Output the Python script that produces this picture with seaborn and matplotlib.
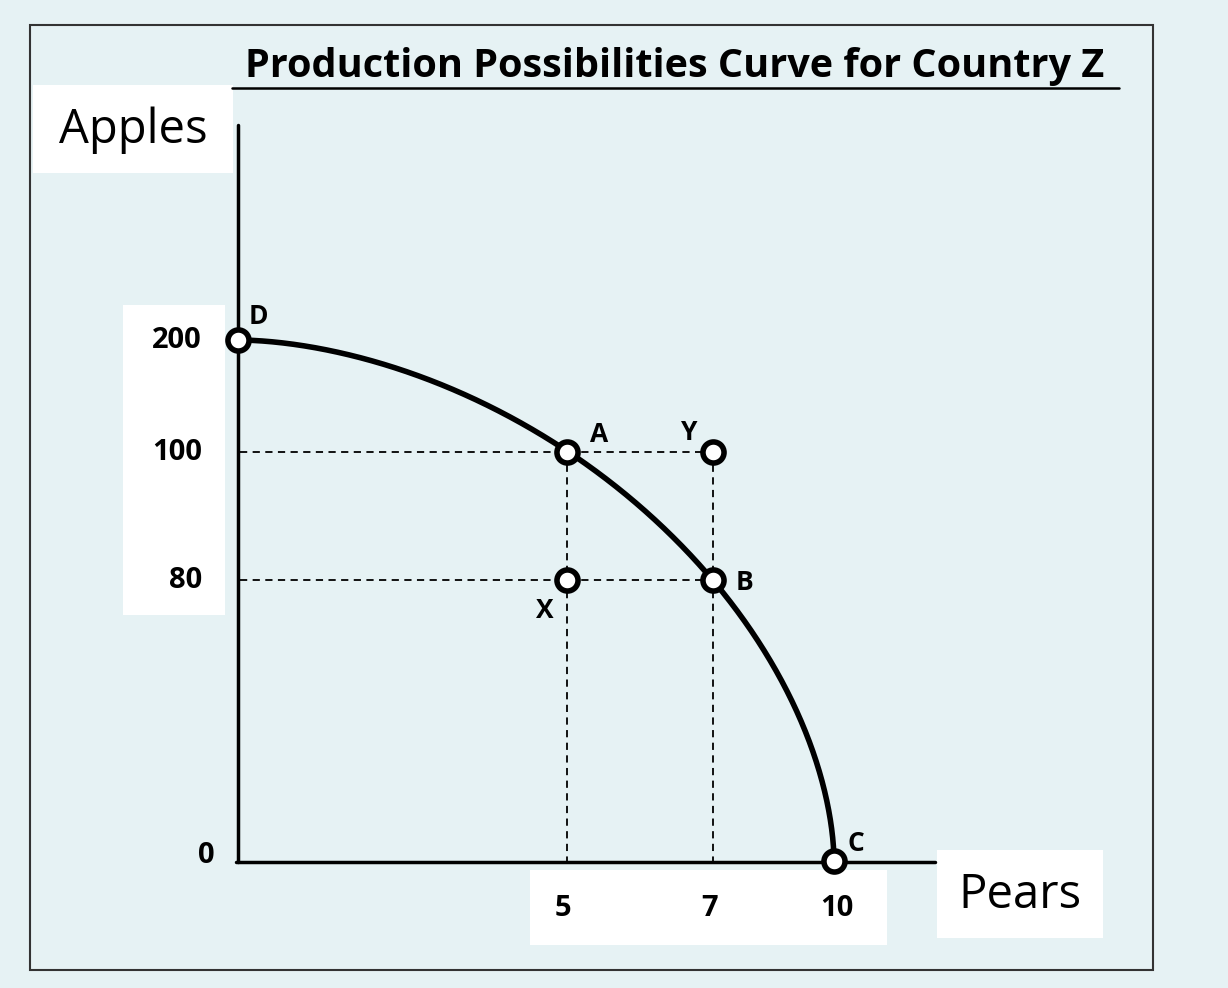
import numpy as np
import pandas as pd
import matplotlib
matplotlib.use("Agg")
import matplotlib.pyplot as plt
import seaborn as sns
from matplotlib.patches import Rectangle

# data
point_names = ["D", "A", "B", "C", "X", "Y"]
pears = [0, 5, 7, 10, 5, 7]
apples = [200, 100, 80, 0, 80, 100]
x_ticks = [5, 7, 10]
y_ticks = [80, 100, 200]
title = "Production Possibilities Curve for Country Z"

# layout: tick values -> pixel positions (non-linear schematic axes)
X_VAL = [0, 5, 7, 10]; X_PIX = [238, 567, 713, 834]
Y_VAL = [0, 80, 100, 200]; Y_PIX = [861, 580, 452, 340]
mx = lambda v: np.interp(v, X_VAL, X_PIX)
my = lambda v: np.interp(v, Y_VAL, Y_PIX)

sns.set_theme(style="white")
plt.rcParams['font.family'] = ['Open Sans', 'DejaVu Sans']
plt.rcParams['text.color'] = 'black'
bg = "#e6f2f4"
fig = plt.figure(figsize=(12.28, 9.88), dpi=100, facecolor=bg)
ax = fig.add_axes([0, 0, 1, 1])
ax.set_xlim(0, 1228); ax.set_ylim(988, 0); ax.axis("off")
ax.set_facecolor(bg)

ax.add_patch(Rectangle((30, 25), 1123, 945, fill=False, ec="#333", lw=1.5))
for (x0, y0, w, h) in [(33, 85, 200, 88), (123, 305, 102, 310), (530, 870, 357, 75), (937, 850, 166, 88)]:
    ax.add_patch(Rectangle((x0, y0), w, h, fc="white", ec="none"))

# axes
ax.plot([238, 238], [125, 862], color="black", lw=2.5)
ax.plot([236, 935], [862, 862], color="black", lw=2.5)

# curve (superellipse through D, A, B, C)
cx, cy = mx(0), my(0)
a, b, p = mx(10) - cx, cy - my(200), 1.78
t = np.linspace(0, np.pi / 2, 300)
xs = cx + a * np.cos(t) ** (2 / p)
ys = cy - b * np.sin(t) ** (2 / p)
sns.lineplot(x=xs, y=ys, sort=False, color="black", lw=4, ax=ax)

# dashed guides
dash = dict(color="black", lw=1.3, ls=(0, (4, 3)))
ax.plot([240, mx(7)], [my(100)] * 2, **dash)
ax.plot([240, mx(7)], [my(80)] * 2, **dash)
ax.plot([mx(5)] * 2, [my(100), 862], **dash)
ax.plot([mx(7)] * 2, [my(100), 862], **dash)

df = pd.DataFrame({"name": point_names, "x": mx(pears), "y": my(apples)})
sns.scatterplot(data=df, x="x", y="y", s=230, facecolor="white", edgecolor="black", linewidth=4, zorder=5, ax=ax)

offs = {"D": (20, -24), "A": (32, -18), "B": (32, 2), "C": (22, -18), "X": (-22, 30), "Y": (-24, -20)}
for n, x, y in zip(df.name, df.x, df.y):
    dx, dy = offs[n]
    ax.text(x + dx, y + dy, n, fontsize=19, fontweight="bold", ha="center", va="center")

for v in y_ticks:
    ax.text(202, my(v), str(v), fontsize=21, fontweight="bold", ha="right", va="center")
ax.text(215, 855, "0", fontsize=21, fontweight="bold", ha="right", va="center")
for v in x_ticks:
    ax.text(mx(v) + (3 if v == 10 else -4), 908, str(v), fontsize=21, fontweight="bold", ha="center", va="center")

ax.text(133, 130, "Apples", fontsize=34, ha="center", va="center")
ax.text(1020, 895, "Pears", fontsize=34, ha="center", va="center")
ax.text(675, 66, title, fontsize=28.5, fontweight="bold", ha="center", va="center")
ax.plot([232, 1119], [88, 88], color="black", lw=1.8)

fig.savefig("out.png", dpi=100, facecolor=bg)
